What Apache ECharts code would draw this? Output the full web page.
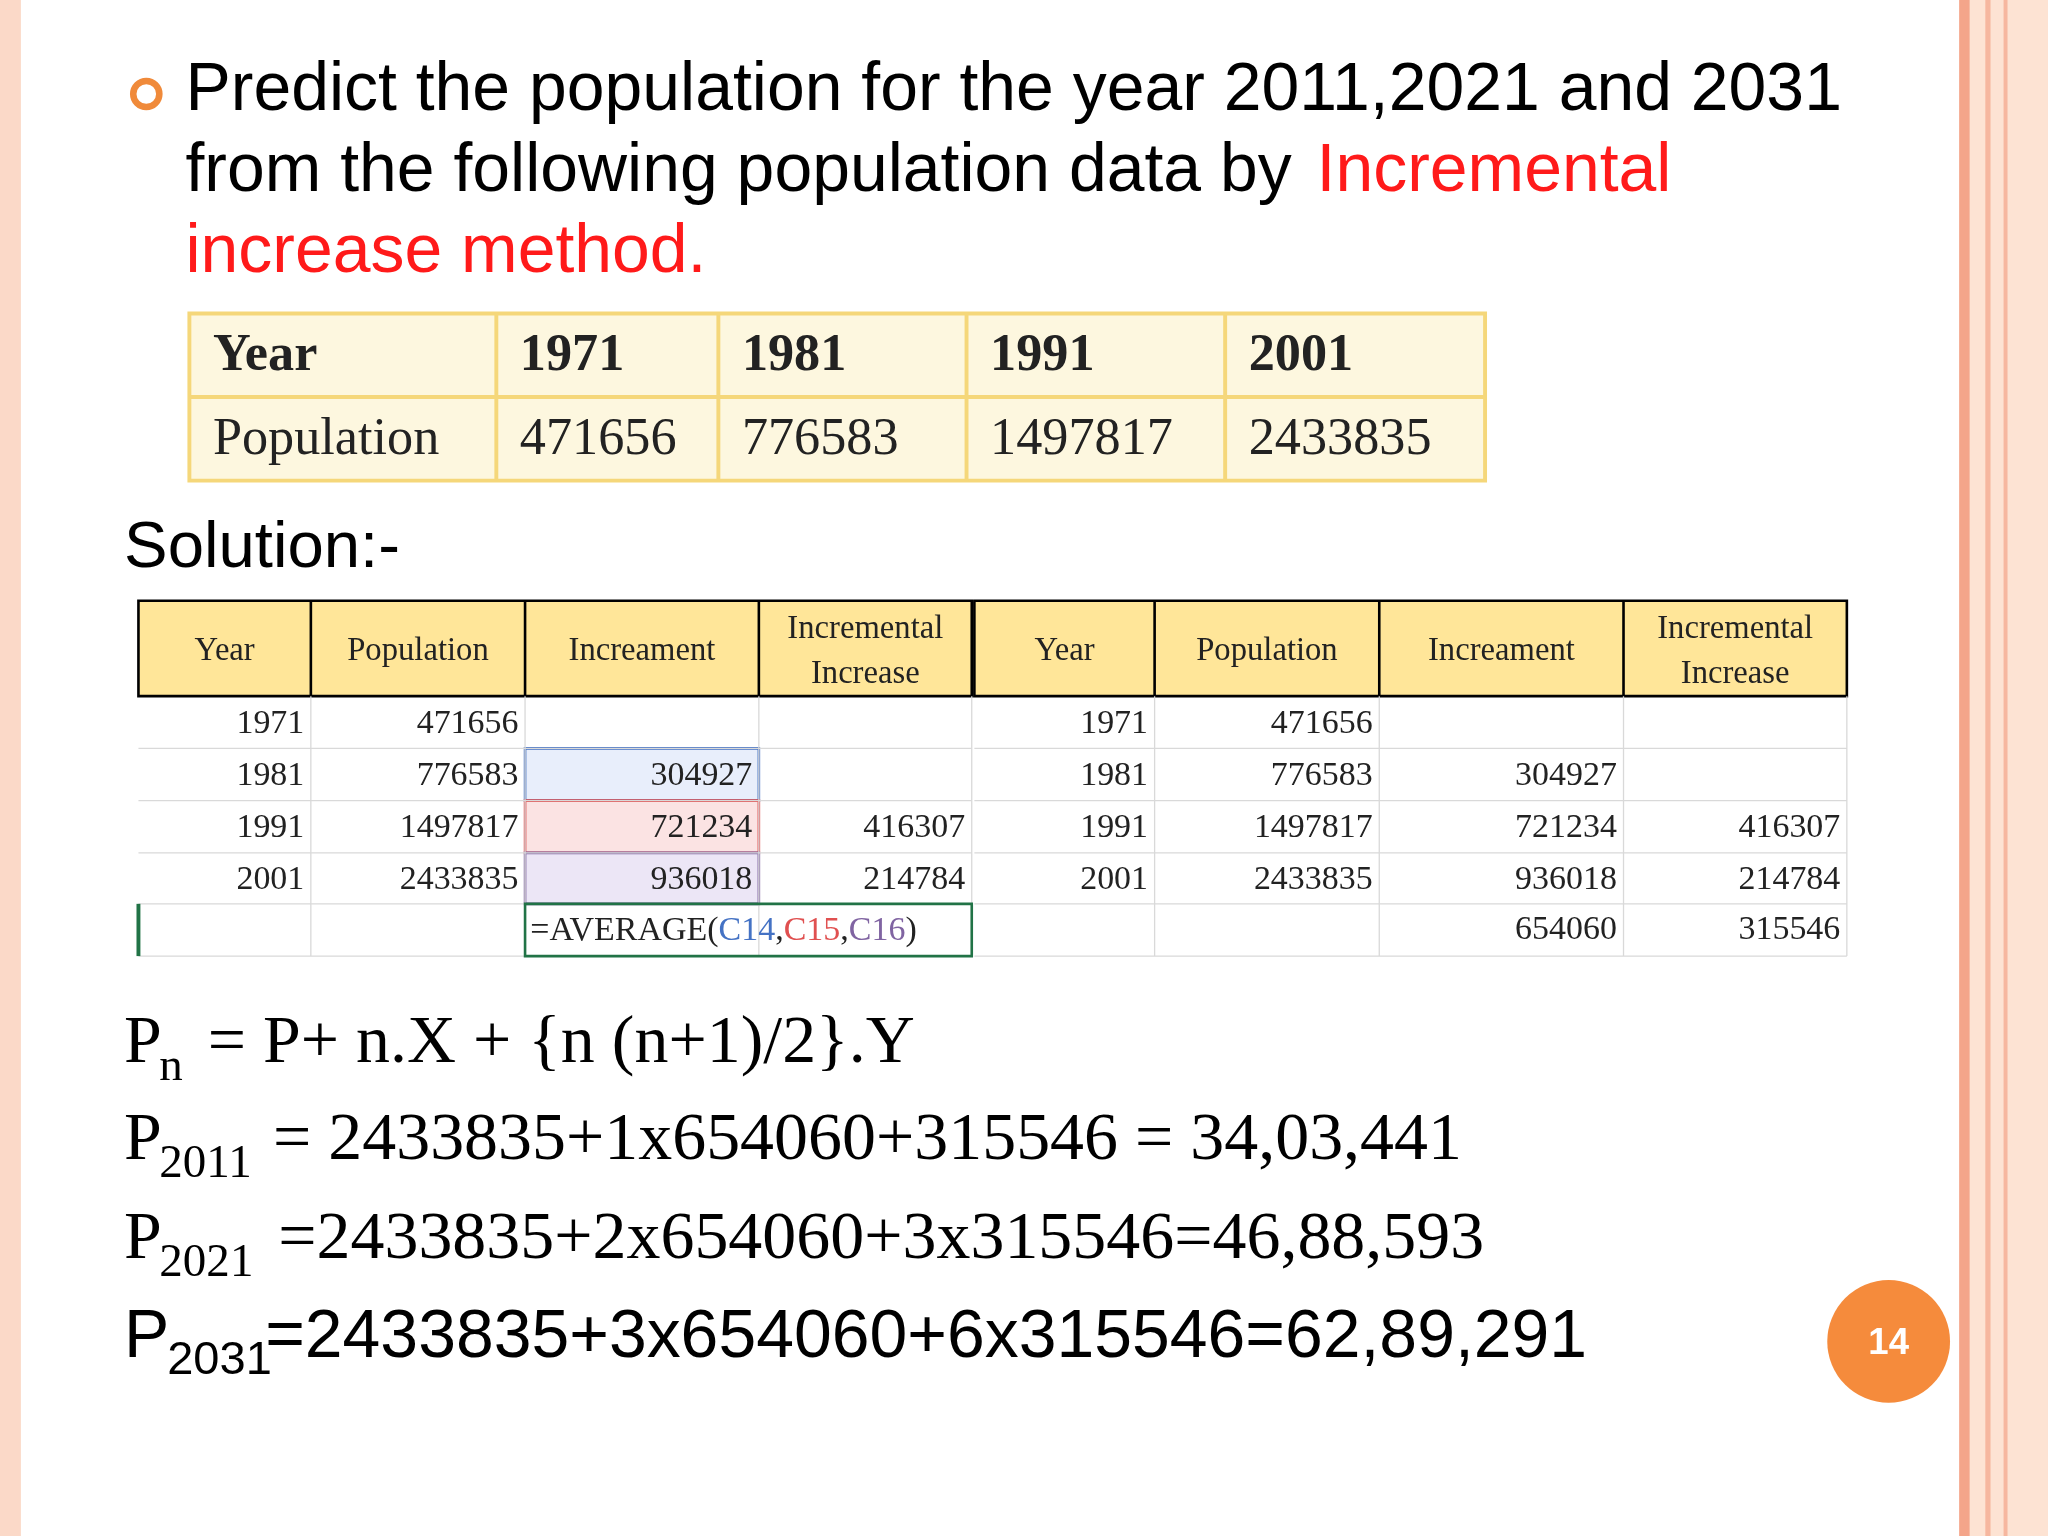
<!DOCTYPE html>
<html><head><meta charset="utf-8">
<script src="https://cdn.jsdelivr.net/npm/echarts@6/dist/echarts.min.js"></script>
<style>html,body{margin:0;padding:0;background:#fff}#c{width:2048px;height:1536px}</style>
</head><body><div id="c"></div>
<script>
const years = ['1971','1981','1991','2001'];
const population = ['471656','776583','1497817','2433835'];
const increment = ['', '304927', '721234', '936018'];
const incIncrease = ['', '', '416307', '214784'];
const averages = ['654060', '315546'];
const headers = ['Year','Population','Increament','Incremental\nIncrease'];
const formulas = [
  ['P','n',' = P+ n.X + {n (n+1)/2}.Y'],
  ['P','2011',' = 2433835+1x654060+315546 = 34,03,441'],
  ['P','2021',' =2433835+2x654060+3x315546=46,88,593'],
  ['P','2031','=2433835+3x654060+6x315546=62,89,291']
];

const S = 2048/1568;
const els = [];
function rect(x,y,w,h,fill,stroke,lw){els.push({type:'rect',shape:{x,y,width:w,height:h},style:{fill:fill||'none',stroke:stroke||'none',lineWidth:lw||1}});}
function line(x1,y1,x2,y2,c,lw){els.push({type:'line',shape:{x1,y1,x2,y2},style:{stroke:c,lineWidth:lw||1}});}
function text(x,y,t,font,fill,align,va,rich){
  if(!va){const sz=parseFloat(font.match(/(\d+)px/)[1]); y=y-0.35*sz; va='middle';}
  els.push({type:'text',style:{x,y,text:t,font,fill:fill||'#000',textAlign:align||'left',textVerticalAlign:va,rich,lineHeight:34}});
}

// side decorations
rect(0,0,16,1176,'#fbd9c8');
rect(1500,0,68,1176,'#fde3d3');
rect(1500,0,8,1176,'#f4a58a');
rect(1520,0,4,1176,'#f6b79f');
rect(1534,0,3,1176,'#f6b79f');

// bullet + title
els.push({type:'circle',shape:{cx:112,cy:72,r:10},style:{fill:'none',stroke:'#f08a3a',lineWidth:5}});
const tf = '52px "Liberation Sans", Arial, sans-serif';
text(142,88,'Predict the population for the year 2011,2021 and 2031',tf);
text(142,150,'from the following population data by ',tf);
text(1008,150,'Incremental',tf,'#ff1a1a');
text(142,212,'increase method.',tf,'#ff1a1a');

// table 1
const t1x=[145,380,550,740,938,1137];
rect(145,240,992,128,'#fdf7df','#f5d77a',3);
line(145,304,1137,304,'#f5d77a',3);
for(let i=1;i<5;i++) line(t1x[i],240,t1x[i],368,'#f5d77a',3);
const r1=['Year'].concat(years), r2=['Population'].concat(population);
for(let i=0;i<5;i++){
  text(t1x[i]+18,287,r1[i],'bold 40px "Liberation Serif", serif','#222');
  text(t1x[i]+18,351,r2[i],'40px "Liberation Serif", serif','#222');
}

text(95,438,'Solution:-','50px "Liberation Sans", Arial, sans-serif');

// table 2
const sf='26px "Liberation Serif", serif', hf='25px "Liberation Serif", serif';
function table2(cols, formulaRow){
  const x0=cols[0], x1=cols[cols.length-1];
  rect(x0,460,x1-x0,73,'#ffe699','#000',2);
  for(let i=1;i<cols.length-1;i++) line(cols[i],460,cols[i],533,'#000',2);
  for(let i=0;i<4;i++) text((cols[i]+cols[i+1])/2,499,headers[i],hf,'#222','center','middle');
  const rows=[533,573,613,653,692,732];
  for(let r=1;r<rows.length;r++) line(x0,rows[r],x1,rows[r],'#d9d9d9',1);
  for(let i=1;i<cols.length;i++) line(cols[i],533,cols[i],732,'#d9d9d9',1);
  for(let r=0;r<4;r++){
    const vals=[years[r],population[r],increment[r],incIncrease[r]];
    for(let c=0;c<4;c++) if(vals[c]) text(cols[c+1]-5,(rows[r]+rows[r+1])/2+1,vals[c],sf,'#222','right','middle');
  }
  if(!formulaRow){
    text(cols[3]-5,712,averages[0],sf,'#222','right','middle');
    text(cols[4]-5,712,averages[1],sf,'#222','right','middle');
  }
}
const L=[106,238,402,581,744], R=[746,884,1056,1243,1414];
rect(402,573,179,40,'#e8eefb','#4472c4',2);
rect(402,613,179,40,'#fbe3e3','#e05050',2);
rect(402,653,179,39,'#ece6f6','#8064a2',2);
table2(L,true);
table2(R,false);
rect(402,692,342,40,'none','#217346',2);
line(106,692,106,732,'#217346',3);
text(406,713,'{k|=AVERAGE(}{b|C14}{k|,}{r|C15}{k|,}{p|C16}{k|)}',sf,'#222','left','middle',{
  k:{fill:'#222',font:sf},b:{fill:'#4472c4',font:sf},r:{fill:'#e05050',font:sf},p:{fill:'#8064a2',font:sf}});

// formulas
const ff='52px "Liberation Serif", serif', fs='36px "Liberation Serif", serif';
const base=[818,892,968,1043], subX=[122,122,122,128], restX=[146,196,200,203];
for(let i=0;i<4;i++){
  const sans=i===3;
  const f=sans?'52px "Liberation Sans", Arial, sans-serif':ff;
  const f2=sans?'36px "Liberation Sans", Arial, sans-serif':fs;
  text(95,base[i],formulas[i][0],f);
  text(subX[i],base[i]+12,formulas[i][1],f2);
  text(restX[i],base[i],formulas[i][2],f);
}

// page number
els.push({type:'circle',shape:{cx:1446,cy:1027,r:47},style:{fill:'#f58b3c'}});
text(1446,1029,'14','bold 28px "Liberation Sans", Arial, sans-serif','#fff','center','middle');

const chart=echarts.init(document.getElementById('c'));
chart.setOption({backgroundColor:'#fff',graphic:[{type:'group',scaleX:S,scaleY:S,children:els}]});
</script></body></html>
